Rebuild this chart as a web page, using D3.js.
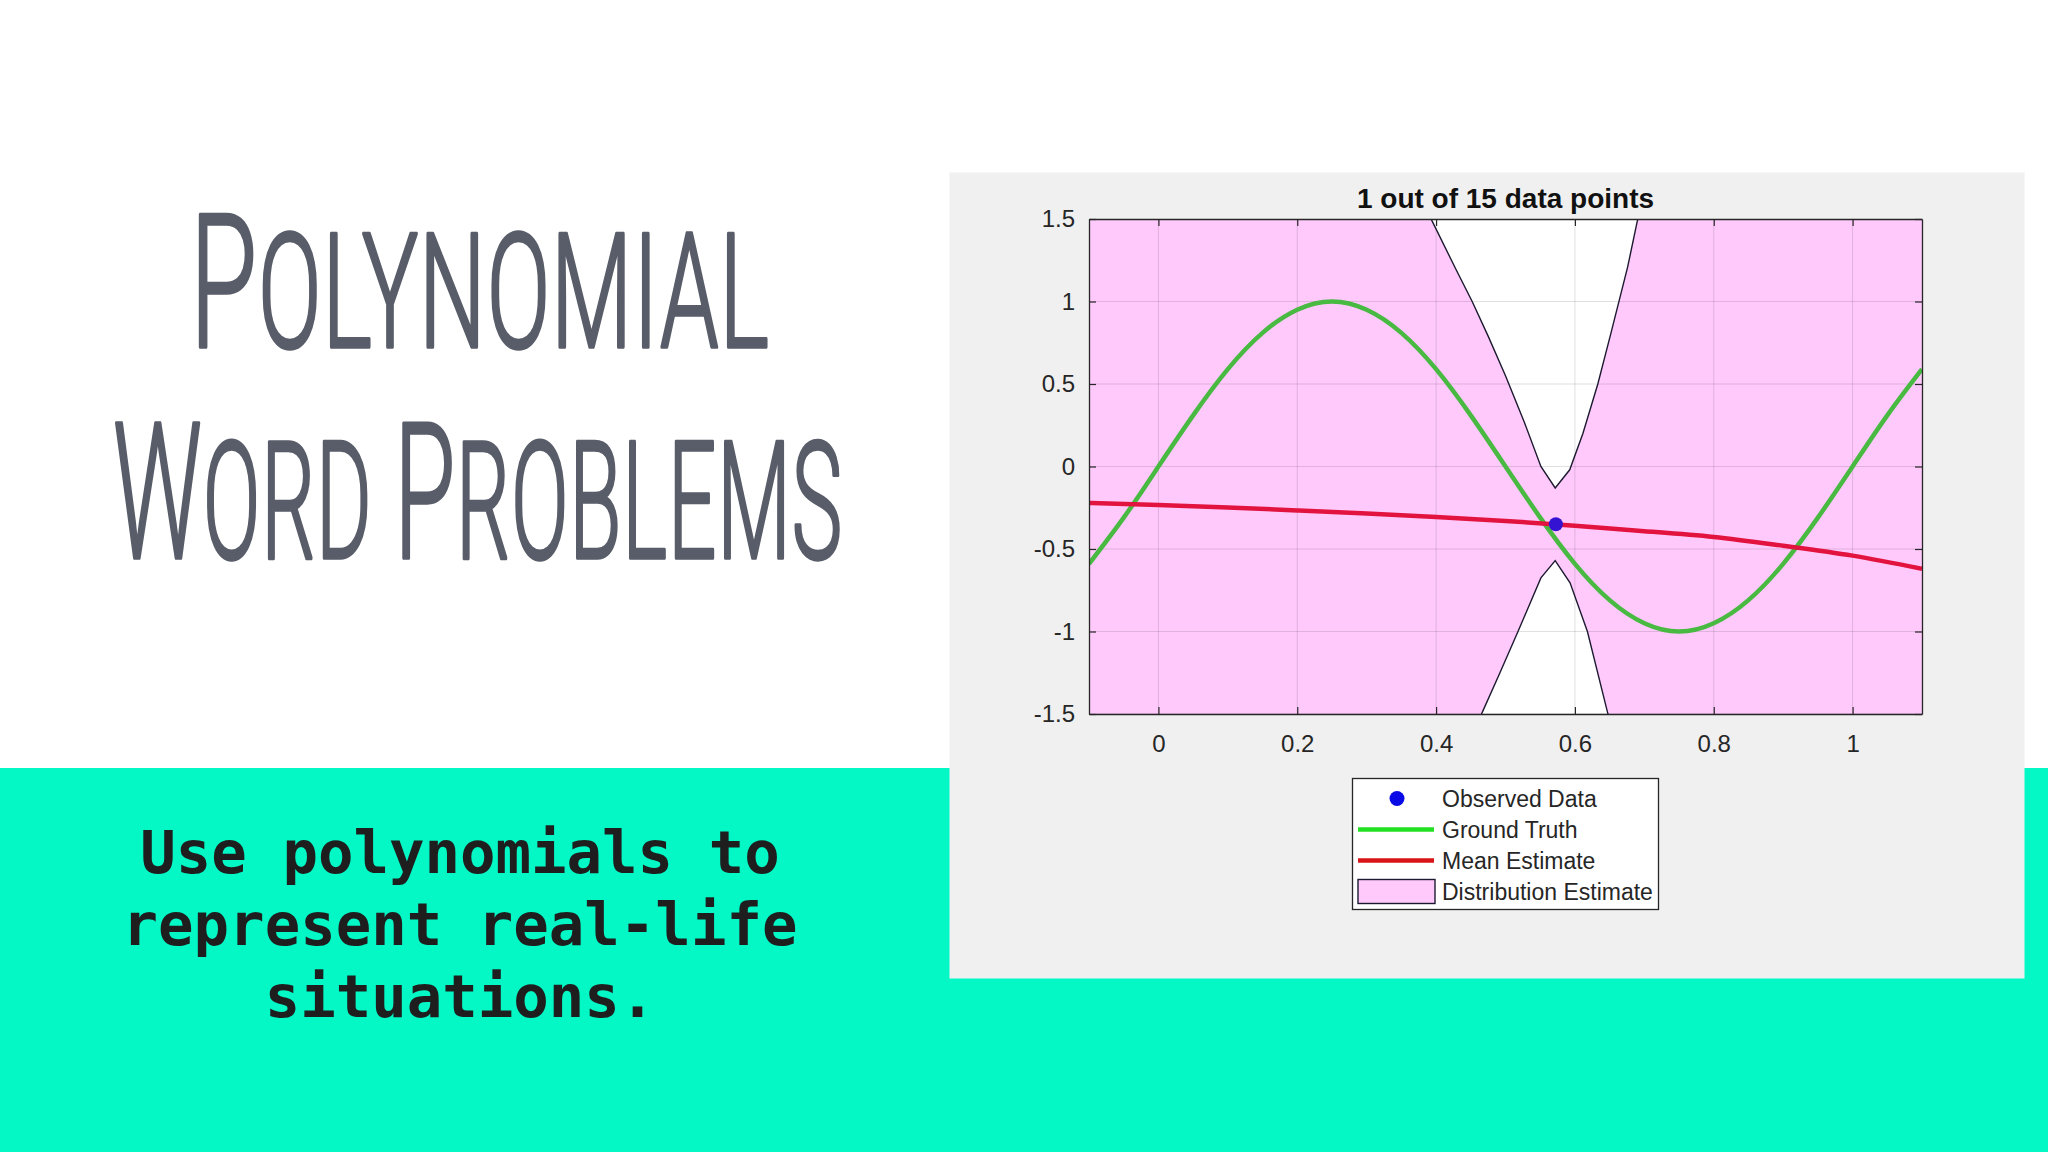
<!DOCTYPE html>
<html>
<head>
<meta charset="utf-8">
<script src="https://cdn.jsdelivr.net/npm/d3@7/dist/d3.min.js"></script>
<style>
  html, body { margin: 0; padding: 0; background: #ffffff; }
  svg { display: block; }
</style>
</head>
<body>
<svg id="chart" width="2048" height="1152"></svg>
<script>
// ---------------- data ----------------
const chartTitle = "1 out of 15 data points";
const headingLines = [["Polynomial"], ["Word", "Problems"]];
const subtitleLines = ["Use polynomials to", "represent real-life", "situations."];

const xTicks = [0, 0.2, 0.4, 0.6, 0.8, 1];
const xTickLabels = ["0", "0.2", "0.4", "0.6", "0.8", "1"];
const yTicks = [-1.5, -1, -0.5, 0, 0.5, 1, 1.5];
const yTickLabels = ["-1.5", "-1", "-0.5", "0", "0.5", "1", "1.5"];

// observed data point
const obsX = [0.5725];
const obsY = [-0.35];

// ground truth curve
const truthX = [-0.1, -0.05, 0, 0.05, 0.1, 0.15, 0.2, 0.25, 0.3, 0.35, 0.4, 0.45, 0.5,
                0.55, 0.6, 0.65, 0.7, 0.75, 0.8, 0.85, 0.9, 0.95, 1.0, 1.05, 1.1];
const truthY = [-0.59, -0.31, 0, 0.31, 0.59, 0.81, 0.95, 1.0, 0.95, 0.81, 0.59, 0.31, 0,
                -0.31, -0.59, -0.81, -0.95, -1.0, -0.95, -0.81, -0.59, -0.31, 0, 0.31, 0.59];

// mean estimate curve
const meanX = [-0.1, 0, 0.1, 0.2, 0.3, 0.4, 0.5, 0.6, 0.7, 0.8, 0.9, 1.0, 1.1];
const meanY = [-0.221, -0.233, -0.248, -0.266, -0.285, -0.306, -0.33, -0.359, -0.392, -0.427, -0.48, -0.54, -0.62];

// distribution estimate (upper / lower bound)
const upperX = [-0.2, 0.36, 0.394, 0.428, 0.452, 0.475, 0.500, 0.527, 0.551, 0.5716, 0.5925, 0.6115, 0.633, 0.652, 0.664, 0.676, 0.690, 0.72, 1.2];
const upperY = [12, 1.80, 1.49, 1.20, 1.00, 0.79, 0.55, 0.27, 0.00, -0.13, -0.02, 0.20, 0.50, 0.81, 1.01, 1.21, 1.49, 1.95, 12];
const lowerX = [-0.2, 0.43, 0.4665, 0.492, 0.518, 0.551, 0.5716, 0.593, 0.618, 0.647, 0.68, 1.2];
const lowerY = [-12, -1.86, -1.49, -1.25, -1.0, -0.675, -0.57, -0.705, -1.0, -1.49, -1.99, -12];

const legendLabels = ["Observed Data", "Ground Truth", "Mean Estimate", "Distribution Estimate"];

// ---------------- drawing ----------------
const svg = d3.select("#chart");
const W = 2048, H = 1152;

// slide background
svg.append("rect").attr("x", 0).attr("y", 0).attr("width", W).attr("height", H).attr("fill", "#ffffff");
svg.append("rect").attr("x", 0).attr("y", 768).attr("width", W).attr("height", H - 768).attr("fill", "#04f8c6");

// heading (hand-drawn small caps look)
const headColor = "#585d69";
const headSpecs = [
  { baseline: 347, x0: 190, x1: 770, big: 186, small: 160 },
  { baseline: 558, x0: 113, x1: 843, big: 190, small: 163 }
];
headingLines.forEach((words, i) => {
  const spec = headSpecs[i];
  const t = svg.append("text")
    .attr("x", 0).attr("y", spec.baseline)
    .attr("fill", headColor)
    .attr("stroke", headColor)
    .attr("stroke-width", 3.5)
    .attr("stroke-linejoin", "round")
    .attr("vector-effect", "non-scaling-stroke")
    .style("font-family", "Roboto, 'Open Sans', 'DejaVu Sans', sans-serif")
    .style("font-weight", 300)
    .style("letter-spacing", "0.10em");
  words.forEach((w, j) => {
    if (j > 0) t.append("tspan").style("font-size", spec.small + "px").text(" ");
    t.append("tspan").style("font-size", spec.big + "px").text(w[0]);
    t.append("tspan").style("font-size", spec.small + "px")
      .style("text-transform", "uppercase").text(w.slice(1));
  });
  const bb = t.node().getBBox();
  const sx = (spec.x1 - spec.x0) / bb.width;
  t.attr("transform", `translate(${spec.x0 - bb.x * sx},0) scale(${sx},1)`);
});

// subtitle
const sub = svg.append("text")
  .attr("text-anchor", "middle")
  .attr("fill", "#1e1e1e")
  .style("font-family", "'DejaVu Sans Mono', 'Liberation Mono', monospace")
  .style("font-weight", "bold")
  .style("font-size", "59px");
subtitleLines.forEach((s, i) => {
  sub.append("tspan").attr("x", 460).attr("y", 873 + i * 72).text(s);
});

// figure panel
svg.append("rect").attr("x", 949.5).attr("y", 172.5).attr("width", 1075).attr("height", 806).attr("fill", "#f0f0f0");

// plot area
const P = { left: 1089, right: 1922, top: 219, bottom: 714 };
const x = d3.scaleLinear().domain([-0.1, 1.1]).range([P.left, P.right]);
const y = d3.scaleLinear().domain([-1.5, 1.5]).range([P.bottom, P.top]);

svg.append("defs").append("clipPath").attr("id", "plotclip")
  .append("rect").attr("x", P.left).attr("y", P.top)
  .attr("width", P.right - P.left).attr("height", P.bottom - P.top);

svg.append("rect").attr("x", P.left).attr("y", P.top)
  .attr("width", P.right - P.left).attr("height", P.bottom - P.top).attr("fill", "#ffffff");

const plot = svg.append("g").attr("clip-path", "url(#plotclip)");

// distribution band polygon
const upperPts = upperX.map((v, i) => [v, upperY[i]]);
const lowerPts = lowerX.map((v, i) => [v, lowerY[i]]).reverse();
const bandPts = upperPts.concat(lowerPts);
const polyLine = d3.line().x(d => x(d[0])).y(d => y(d[1]));
plot.append("path")
  .attr("d", polyLine(bandPts) + "Z")
  .attr("fill", "#ffc9fc")
  .attr("stroke", "#1c1a30")
  .attr("stroke-width", 1.4);

// grid
const grid = plot.append("g").attr("stroke", "#262626").attr("stroke-opacity", 0.14).attr("stroke-width", 1);
xTicks.forEach(t => grid.append("line").attr("x1", x(t)).attr("x2", x(t)).attr("y1", P.top).attr("y2", P.bottom));
yTicks.forEach(t => grid.append("line").attr("y1", y(t)).attr("y2", y(t)).attr("x1", P.left).attr("x2", P.right));

// ground truth
const truthPts = truthX.map((v, i) => [v, truthY[i]]);
plot.append("path")
  .attr("d", d3.line().x(d => x(d[0])).y(d => y(d[1])).curve(d3.curveNatural)(truthPts))
  .attr("fill", "none").attr("stroke", "#48ba42").attr("stroke-width", 4.5);

// mean estimate
const meanPts = meanX.map((v, i) => [v, meanY[i]]);
plot.append("path")
  .attr("d", d3.line().x(d => x(d[0])).y(d => y(d[1])).curve(d3.curveNatural)(meanPts))
  .attr("fill", "none").attr("stroke", "#e3133f").attr("stroke-width", 4.5);

// observed data
plot.selectAll("circle.obs").data(obsX.map((v, i) => [v, obsY[i]])).enter()
  .append("circle").attr("class", "obs")
  .attr("cx", d => x(d[0])).attr("cy", d => y(d[1])).attr("r", 7)
  .attr("fill", "#3414d2");

// axes
const axisColor = "#262626";
const fontAxis = "'Liberation Sans', Arial, sans-serif";
function styleAxis(g) {
  g.select(".domain").attr("stroke", axisColor).attr("stroke-width", 1.3);
  g.selectAll(".tick line").attr("stroke", axisColor).attr("stroke-width", 1.2);
  g.selectAll(".tick text").attr("fill", axisColor).style("font-family", fontAxis).style("font-size", "24px");
}
svg.append("g").attr("transform", `translate(0,${P.bottom})`)
  .call(d3.axisBottom(x).tickValues(xTicks).tickFormat((d, i) => xTickLabels[i]).tickSizeInner(-7).tickSizeOuter(0).tickPadding(21))
  .call(styleAxis);
svg.append("g").attr("transform", `translate(0,${P.top})`)
  .call(d3.axisTop(x).tickValues(xTicks).tickFormat("").tickSizeInner(-7).tickSizeOuter(0))
  .call(styleAxis);
svg.append("g").attr("transform", `translate(${P.left},0)`)
  .call(d3.axisLeft(y).tickValues(yTicks).tickFormat((d, i) => yTickLabels[i]).tickSizeInner(-7).tickSizeOuter(0).tickPadding(14))
  .call(styleAxis);
svg.append("g").attr("transform", `translate(${P.right},0)`)
  .call(d3.axisRight(y).tickValues(yTicks).tickFormat("").tickSizeInner(-7).tickSizeOuter(0))
  .call(styleAxis);

// title
svg.append("text")
  .attr("x", (P.left + P.right) / 2).attr("y", 208)
  .attr("text-anchor", "middle").attr("fill", "#111111")
  .style("font-family", fontAxis).style("font-weight", "bold").style("font-size", "28px")
  .text(chartTitle);

// legend
const L = { x: 1352.5, y: 778.5, w: 306, h: 131 };
const leg = svg.append("g");
leg.append("rect").attr("x", L.x).attr("y", L.y).attr("width", L.w).attr("height", L.h)
  .attr("fill", "#ffffff").attr("stroke", axisColor).attr("stroke-width", 1.3);
const rowY = [798.5, 829.5, 860.5, 891.5];
const iconX0 = 1358, iconX1 = 1434, textX = 1442;
legendLabels.forEach((lab, i) => {
  const cy = rowY[i];
  if (i === 0) {
    leg.append("circle").attr("cx", (iconX0 + iconX1) / 2 + 1).attr("cy", cy).attr("r", 7.5).attr("fill", "#0a0ae6");
  } else if (i === 1) {
    leg.append("line").attr("x1", iconX0).attr("x2", iconX1).attr("y1", cy).attr("y2", cy)
      .attr("stroke", "#22e022").attr("stroke-width", 4.5);
  } else if (i === 2) {
    leg.append("line").attr("x1", iconX0).attr("x2", iconX1).attr("y1", cy).attr("y2", cy)
      .attr("stroke", "#d81418").attr("stroke-width", 4.5);
  } else {
    leg.append("rect").attr("x", iconX0).attr("y", cy - 12).attr("width", iconX1 - iconX0 + 1).attr("height", 24)
      .attr("fill", "#ffc9fc").attr("stroke", "#1c1a30").attr("stroke-width", 1.4);
  }
  leg.append("text").attr("x", textX).attr("y", cy).attr("dy", "0.35em")
    .attr("fill", axisColor).style("font-family", fontAxis).style("font-size", "23px")
    .text(lab);
});
</script>
</body>
</html>
